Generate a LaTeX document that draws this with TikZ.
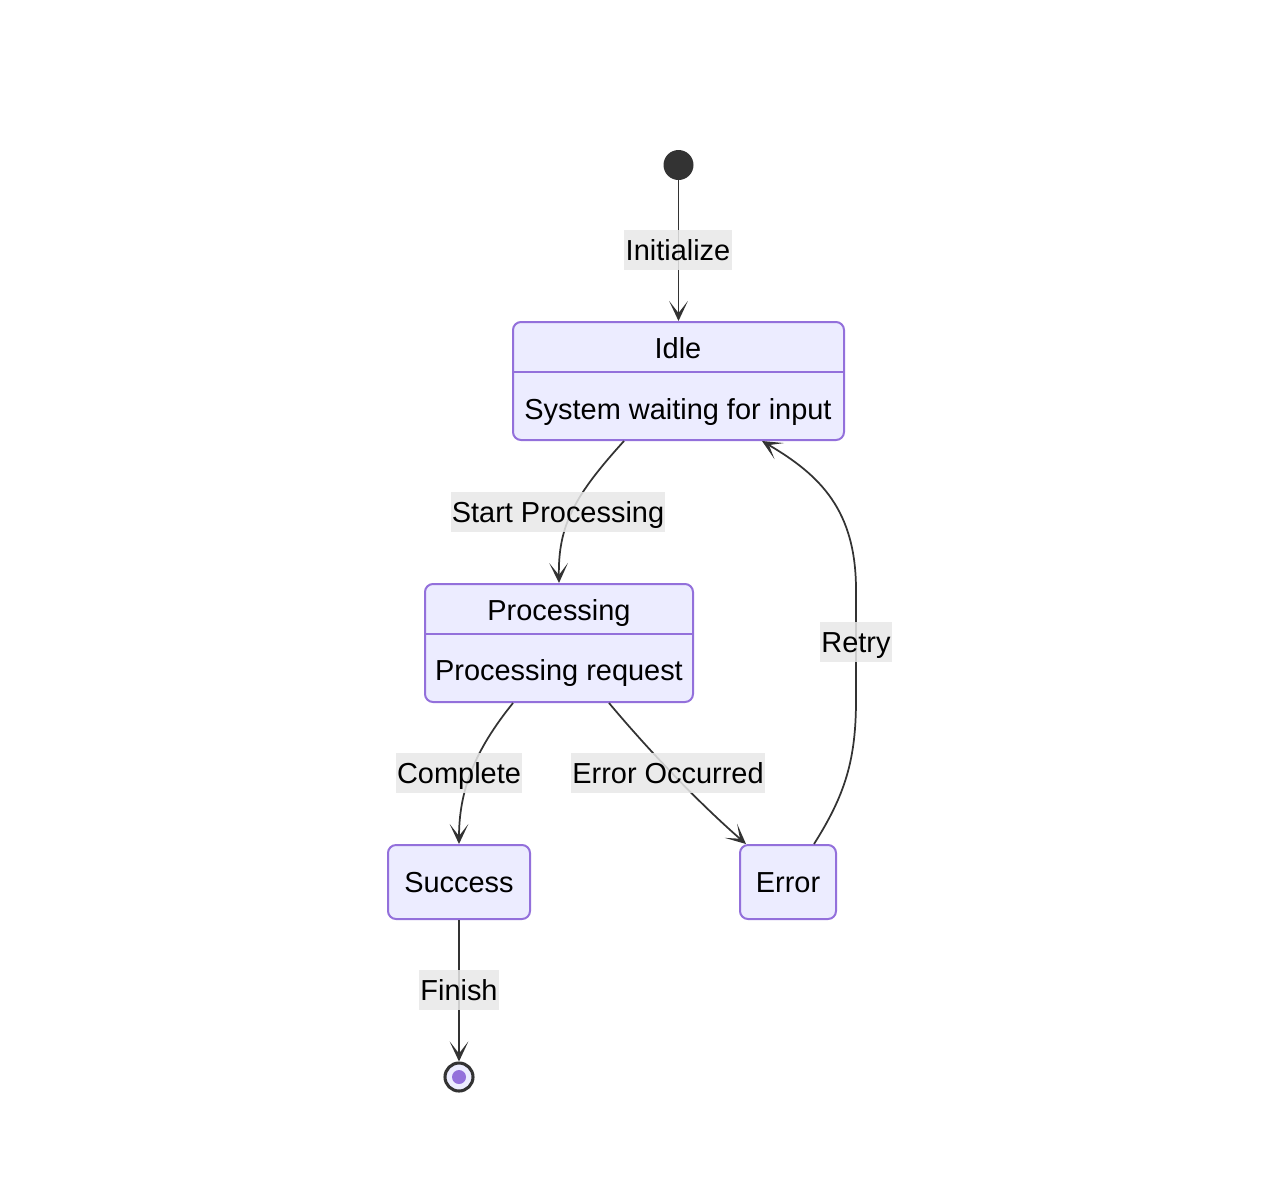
\documentclass[tikz,border=0pt]{standalone}
\usepackage{fontspec}
\setmainfont{Liberation Sans}
\usepackage{tikz}
\usetikzlibrary{arrows.meta,positioning,fit,calc}
\usepackage{xcolor}
\definecolor{stfill}{HTML}{ECECFF}
\definecolor{stline}{HTML}{9370DB}
\definecolor{edgeline}{HTML}{333333}
\definecolor{lblfill}{HTML}{E8E8E8}

\begin{document}
\begin{tikzpicture}[x=0.75pt, y=-0.75pt, every node/.style={font=\fontsize{21.7}{26}\selectfont}]
\tikzset{state/.style={draw=stline, line width=1.5pt, fill=stfill, rounded corners=6pt, inner sep=0pt}}
\tikzset{txt/.style={text height=15.5pt, text depth=0pt}}
\tikzset{lbl/.style={txt, fill=lblfill, fill opacity=0.85, text opacity=1, inner xsep=1pt, inner ysep=0pt, minimum height=30pt}}
\tikzset{edge/.style={draw=edgeline, line width=1.3pt, -{Stealth[length=15pt, width=14pt, inset=9pt]}}}
\useasboundingbox (0,0) rectangle (1280,1200);
% states
\node[circle, fill=edgeline, minimum size=22.5pt, inner sep=0pt] (init) at (678.5,165) {};
\node[state, fit={(513,322) (844,440)}] (idle) {};
\node[txt] (idleT) at (678,348) {Idle};
\node[txt] (idleB) at (678,409) {System waiting for input};
\draw[stline, line width=1.5pt] (idle.west |- 0,372) -- (idle.east |- 0,372);
\node[state, fit={(425,584) (693,702)}] (proc) {};
\node[txt] (procT) at (559,610) {Processing};
\node[txt] (procB) at (559,670) {Processing request};
\draw[stline, line width=1.5pt] (proc.west |- 0,634) -- (proc.east |- 0,634);
\node[state, fit={(388,845) (530,919)}] (succ) {};
\node[txt] at (succ) {Success};
\node[state, fit={(740,845) (836,919)}] (err) {};
\node[txt] at (err) {Error};
\node[circle, draw=edgeline, line width=2.3pt, fill=stfill, minimum size=21pt, inner sep=0pt] (fin) at (459,1077) {};
\node[circle, fill=stline, minimum size=10.5pt, inner sep=0pt] (finDot) at (fin) {};
% transitions
\draw[edge] (init) -- (idle.north);
\draw[edge] ($(idle.south)+(-54.5,0)$) .. controls (575,495) and (558,525) .. (proc.north);
\draw[edge] ($(proc.south)+(-46,0)$) .. controls (475,750) and (459,790) .. (succ.north);
\draw[edge] ($(proc.south)+(50,0)$) .. controls (640,740) and (690,795) .. ($(err.north)+(-42,0)$);
\draw[edge] ($(err.north)+(26,0)$) .. controls (845,795) and (856,760) .. (856,700) -- (856,590)
  .. controls (856,510) and (820,475) .. ($(idle.south)+(83.5,0)$);
\draw[edge] (succ.south) -- (fin.north);
% labels
\node[lbl] (lInit) at (678,250) {Initialize};
\node[lbl] (lStart) at (558,512) {Start Processing};
\node[lbl] (lDone) at (459,773) {Complete};
\node[lbl] (lErr) at (668,773) {Error Occurred};
\node[lbl] (lRetry) at (856,642) {Retry};
\node[lbl] (lFin) at (459,990) {Finish};
\end{tikzpicture}
\end{document}
